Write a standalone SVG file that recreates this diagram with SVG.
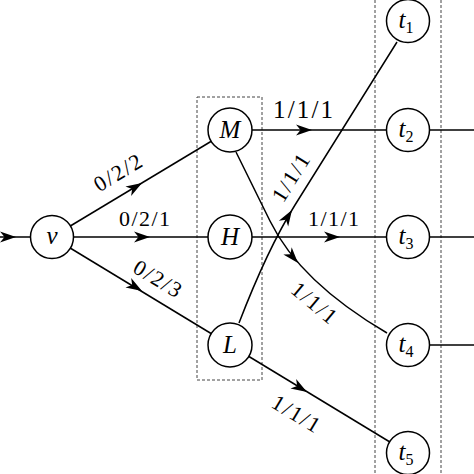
<svg xmlns="http://www.w3.org/2000/svg" xmlns:xlink="http://www.w3.org/1999/xlink" width="474" height="474" viewBox="0 0 474 474">
<style>
.bg{fill:#fff}
.dash{fill:none;stroke:#444;stroke-width:1;stroke-dasharray:3,2}
.edge{fill:none;stroke:#000;stroke-width:1.5}
.node circle{fill:#fff;stroke:#000;stroke-width:1.5}
.nl{font-family:"Liberation Serif",serif;font-size:25px;font-style:italic;text-anchor:middle}
.sub{font-style:normal;font-size:16px}
.lbl{font-family:"Liberation Serif",serif;font-size:22px;text-anchor:middle}
.big{font-size:25px}
</style>
<defs>
<path id="ah" d="M0,0 L-16,-5.5 L-11.5,0 L-16,5.5 Z" fill="#000"/>
</defs>
<rect class="bg" x="0" y="0" width="474" height="474"/>
<g id="groups">
<rect class="dash" x="197" y="97" width="65" height="283"/>
<line class="dash" x1="375" y1="0" x2="375" y2="474"/>
<line class="dash" x1="441" y1="0" x2="441" y2="474"/>
</g>
<g id="connectors">
<line class="edge" x1="0" y1="237" x2="52" y2="237"/>
<use xlink:href="#ah" transform="translate(16,237)"/>
<line class="edge" x1="52" y1="237" x2="230" y2="130"/>
<use xlink:href="#ah" transform="translate(142,183) rotate(-31)"/>
<line class="edge" x1="52" y1="237" x2="230" y2="237"/>
<use xlink:href="#ah" transform="translate(150,237)"/>
<line class="edge" x1="52" y1="237" x2="230" y2="345"/>
<use xlink:href="#ah" transform="translate(142,291) rotate(31.2)"/>
<line class="edge" x1="230" y1="130" x2="408" y2="130"/>
<use xlink:href="#ah" transform="translate(312,130)"/>
<line class="edge" x1="230" y1="237" x2="408" y2="237"/>
<use xlink:href="#ah" transform="translate(340,237)"/>
<path class="edge" d="M239,323 Q267.4,249.2 295,205 L397,42"/>
<use xlink:href="#ah" transform="translate(292,210) rotate(-58)"/>
<path class="edge" d="M236,152 L270,221 Q300,282 387,333"/>
<use xlink:href="#ah" transform="translate(298,263) rotate(49)"/>
<line class="edge" x1="230" y1="345" x2="408" y2="453"/>
<use xlink:href="#ah" transform="translate(307,392) rotate(31.2)"/>
<line class="edge" x1="408" y1="130" x2="474" y2="130"/>
<line class="edge" x1="408" y1="237" x2="474" y2="237"/>
<line class="edge" x1="408" y1="345" x2="474" y2="345"/>
</g>
<g id="labels">
<text class="lbl" transform="translate(118,173) rotate(-31)" y="7" textLength="52">0/2/2</text>
<text class="lbl" x="144.5" y="226" textLength="51">0/2/1</text>
<text class="lbl" transform="translate(157.5,279) rotate(31)" y="7" textLength="52">0/2/3</text>
<text class="lbl big" x="303" y="118" textLength="60">1/1/1</text>
<text class="lbl" x="333.5" y="226" textLength="51">1/1/1</text>
<text class="lbl" transform="translate(291,178) rotate(-58)" y="7" textLength="52">1/1/1</text>
<text class="lbl" transform="translate(314,303) rotate(40)" y="7" textLength="52">1/1/1</text>
<text class="lbl" transform="translate(296,414) rotate(31)" y="7" textLength="52">1/1/1</text>
</g>
<g id="v" class="node"><circle cx="52" cy="237" r="21.5"/><text class="nl" x="52" y="244">v</text></g>
<g id="M" class="node"><circle cx="230" cy="130" r="22"/><text class="nl" x="230" y="138">M</text></g>
<g id="H" class="node"><circle cx="230" cy="237" r="22"/><text class="nl" x="230" y="245">H</text></g>
<g id="L" class="node"><circle cx="230" cy="345" r="22"/><text class="nl" x="230" y="353">L</text></g>
<g id="t1" class="node"><circle cx="408" cy="21" r="21.5"/><text class="nl" x="406" y="28">t<tspan class="sub" dy="5">1</tspan></text></g>
<g id="t2" class="node"><circle cx="408" cy="130" r="21.5"/><text class="nl" x="406" y="137">t<tspan class="sub" dy="5">2</tspan></text></g>
<g id="t3" class="node"><circle cx="408" cy="237" r="21.5"/><text class="nl" x="406" y="244">t<tspan class="sub" dy="5">3</tspan></text></g>
<g id="t4" class="node"><circle cx="408" cy="345" r="21.5"/><text class="nl" x="406" y="352">t<tspan class="sub" dy="5">4</tspan></text></g>
<g id="t5" class="node"><circle cx="408" cy="453" r="21.5"/><text class="nl" x="406" y="460">t<tspan class="sub" dy="5">5</tspan></text></g>
</svg>
